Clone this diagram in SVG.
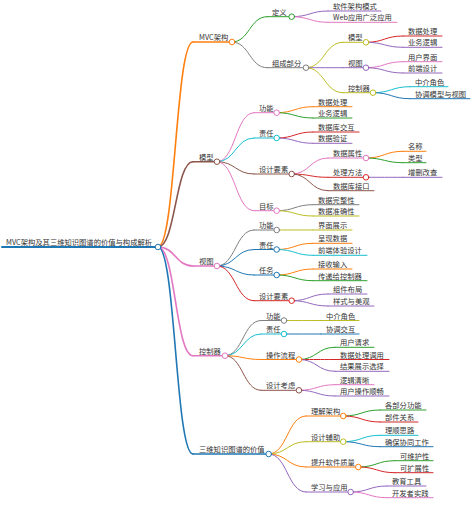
<svg xmlns="http://www.w3.org/2000/svg" width="474" height="513" viewBox="0 0 474 513">
<style>
.t{font-family:"Noto Sans CJK SC","Liberation Sans",sans-serif;font-size:7.3px;fill:#333}
line,path,circle{fill:none;stroke-linecap:round}
circle{fill:#fff;stroke-width:1}
line{stroke-width:1}
#links path{stroke-width:1}
#links .l1{stroke-width:1.6}
.u1{stroke-width:1.5}
.bl{stroke:#1f77b4}.o{stroke:#ff7f0e}.g{stroke:#2ca02c}.r{stroke:#d62728}.p{stroke:#9467bd}
.br{stroke:#8c564b}.pk{stroke:#e377c2}.gy{stroke:#7f7f7f}.y{stroke:#bcbd22}.c{stroke:#17becf}
</style>
<rect width="474" height="513" fill="#fff"/>
<g id="links">
<path class="l1 o" d="M158,247 C175.5,247 175.5,42 193,42"/>
<path class="l1 br" d="M158,247 C175.5,247 175.5,161.7 193,161.7"/>
<path class="l1 pk" d="M158,247 C175.5,247 175.5,266 193,266"/>
<path class="l1 pk" d="M158,247 C175.5,247 175.5,355.7 193,355.7"/>
<path class="l1 bl" d="M158,247 C175.5,247 175.5,454 193,454"/>
<path class="g" d="M232,42 C249.5,42 249.5,16.7 267,16.7"/>
<path class="gy" d="M232,42 C249.5,42 249.5,67.7 267,67.7"/>
<path class="p" d="M291.7,16.7 C309.9,16.7 309.9,11 328,11"/>
<path class="pk" d="M291.7,16.7 C309.9,16.7 309.9,22.3 328,22.3"/>
<path class="y" d="M306,67.7 C324.5,67.7 324.5,42.3 343,42.3"/>
<path class="p" d="M306,67.7 C324.5,67.7 324.5,67.7 343,67.7"/>
<path class="y" d="M306,67.7 C324.5,67.7 324.5,92.7 343,92.7"/>
<path class="r" d="M366,42.3 C384.5,42.3 384.5,36 403,36"/>
<path class="p" d="M366,42.3 C384.5,42.3 384.5,47.3 403,47.3"/>
<path class="pk" d="M366,67.7 C384.5,67.7 384.5,61.7 403,61.7"/>
<path class="p" d="M366,67.7 C384.5,67.7 384.5,73 403,73"/>
<path class="c" d="M373,92.7 C391.5,92.7 391.5,86.7 410,86.7"/>
<path class="bl" d="M373,92.7 C391.5,92.7 391.5,98.7 410,98.7"/>
<path class="pk" d="M217,161.7 C235.5,161.7 235.5,112.7 254,112.7"/>
<path class="c" d="M217,161.7 C235.5,161.7 235.5,138 254,138"/>
<path class="br" d="M217,161.7 C235.5,161.7 235.5,174 254,174"/>
<path class="pk" d="M217,161.7 C235.5,161.7 235.5,210.7 254,210.7"/>
<path class="o" d="M276.7,112.7 C294.9,112.7 294.9,106.7 313,106.7"/>
<path class="g" d="M276.7,112.7 C294.9,112.7 294.9,118 313,118"/>
<path class="r" d="M276.7,138 C294.9,138 294.9,132 313,132"/>
<path class="p" d="M276.7,138 C294.9,138 294.9,143.3 313,143.3"/>
<path class="pk" d="M291.7,174 C309.9,174 309.9,158 328,158"/>
<path class="r" d="M291.7,174 C309.9,174 309.9,177.3 328,177.3"/>
<path class="br" d="M291.7,174 C309.9,174 309.9,190.7 328,190.7"/>
<path class="o" d="M366,158 C384.5,158 384.5,151.3 403,151.3"/>
<path class="g" d="M366,158 C384.5,158 384.5,162.7 403,162.7"/>
<path class="p" d="M366,177.3 C384.5,177.3 384.5,177.3 403,177.3"/>
<path class="gy" d="M276.7,210.7 C294.9,210.7 294.9,204.7 313,204.7"/>
<path class="y" d="M276.7,210.7 C294.9,210.7 294.9,216 313,216"/>
<path class="gy" d="M217,266 C235.5,266 235.5,230 254,230"/>
<path class="bl" d="M217,266 C235.5,266 235.5,249.5 254,249.5"/>
<path class="bl" d="M217,266 C235.5,266 235.5,275 254,275"/>
<path class="r" d="M217,266 C235.5,266 235.5,300.7 254,300.7"/>
<path class="y" d="M276.7,230 C294.9,230 294.9,230 313,230"/>
<path class="o" d="M276.7,249.5 C294.9,249.5 294.9,243.3 313,243.3"/>
<path class="c" d="M276.7,249.5 C294.9,249.5 294.9,255.3 313,255.3"/>
<path class="o" d="M276.7,275 C294.9,275 294.9,269 313,269"/>
<path class="g" d="M276.7,275 C294.9,275 294.9,280.7 313,280.7"/>
<path class="p" d="M291.7,300.7 C309.9,300.7 309.9,294 328,294"/>
<path class="p" d="M291.7,300.7 C309.9,300.7 309.9,306 328,306"/>
<path class="gy" d="M225,355.7 C243,355.7 243,320.5 261,320.5"/>
<path class="c" d="M225,355.7 C243,355.7 243,334 261,334"/>
<path class="o" d="M225,355.7 C243,355.7 243,359.5 261,359.5"/>
<path class="br" d="M225,355.7 C243,355.7 243,390.3 261,390.3"/>
<path class="y" d="M284,320.5 C302.5,320.5 302.5,320.5 321,320.5"/>
<path class="bl" d="M284,334 C302.5,334 302.5,334 321,334"/>
<path class="g" d="M299,359.5 C317,359.5 317,347.3 335,347.3"/>
<path class="r" d="M299,359.5 C317,359.5 317,359.5 335,359.5"/>
<path class="p" d="M299,359.5 C317,359.5 317,371.3 335,371.3"/>
<path class="pk" d="M299,390.3 C317,390.3 317,384.7 335,384.7"/>
<path class="p" d="M299,390.3 C317,390.3 317,396 335,396"/>
<path class="o" d="M268.7,454 C287.4,454 287.4,416 306,416"/>
<path class="y" d="M268.7,454 C287.4,454 287.4,441.7 306,441.7"/>
<path class="o" d="M268.7,454 C287.4,454 287.4,467 306,467"/>
<path class="p" d="M268.7,454 C287.4,454 287.4,492 306,492"/>
<path class="g" d="M343.3,416 C361.7,416 361.7,410 380,410"/>
<path class="r" d="M343.3,416 C361.7,416 361.7,422 380,422"/>
<path class="c" d="M343.3,441.7 C361.7,441.7 361.7,435.3 380,435.3"/>
<path class="bl" d="M343.3,441.7 C361.7,441.7 361.7,446.7 380,446.7"/>
<path class="g" d="M358.3,467 C376.7,467 376.7,460.7 395,460.7"/>
<path class="r" d="M358.3,467 C376.7,467 376.7,472.7 395,472.7"/>
<path class="p" d="M350.7,492 C368.9,492 368.9,486 387,486"/>
<path class="pk" d="M350.7,492 C368.9,492 368.9,497.7 387,497.7"/>
</g>

<g id="n0"><line class="bl" style="stroke-width:2" x1="2" y1="247" x2="158" y2="247"/><text class="t" x="6" y="245">MVC架构及其三维知识图谱的价值与构成解析</text><circle class="bl" cx="158" cy="247" r="2.8"/></g>

<g id="n1"><line class="o u1" x1="193" y1="42" x2="232" y2="42"/><text class="t" x="199" y="40">MVC架构</text><circle class="o" cx="232" cy="42" r="2.8"/></g>
<g id="n1a"><line class="g" x1="267" y1="16.7" x2="291.7" y2="16.7"/><text class="t" x="272" y="14.7">定义</text><circle class="g" cx="291.7" cy="16.7" r="2.8"/></g>
<g id="n1a1"><line class="p" x1="328" y1="11" x2="381" y2="11"/><text class="t" x="333" y="9">软件架构模式</text></g>
<g id="n1a2"><line class="pk" x1="328" y1="22.3" x2="397" y2="22.3"/><text class="t" x="333" y="20.3">Web应用广泛应用</text></g>
<g id="n1b"><line class="gy" x1="267" y1="67.7" x2="306" y2="67.7"/><text class="t" x="272" y="65.7">组成部分</text><circle class="gy" cx="306" cy="67.7" r="2.8"/></g>
<g id="n1b1"><line class="y" x1="343" y1="42.3" x2="366" y2="42.3"/><text class="t" x="348" y="40.3">模型</text><circle class="y" cx="366" cy="42.3" r="2.8"/></g>
<g id="n1b1a"><line class="r" x1="403" y1="36" x2="442" y2="36"/><text class="t" x="408" y="34">数据处理</text></g>
<g id="n1b1b"><line class="p" x1="403" y1="47.3" x2="442" y2="47.3"/><text class="t" x="408" y="45.3">业务逻辑</text></g>
<g id="n1b2"><line class="p" x1="343" y1="67.7" x2="366" y2="67.7"/><text class="t" x="348" y="65.7">视图</text><circle class="p" cx="366" cy="67.7" r="2.8"/></g>
<g id="n1b2a"><line class="pk" x1="403" y1="61.7" x2="442" y2="61.7"/><text class="t" x="408" y="59.7">用户界面</text></g>
<g id="n1b2b"><line class="p" x1="403" y1="73" x2="442" y2="73"/><text class="t" x="408" y="71">前端设计</text></g>
<g id="n1b3"><line class="y" x1="343" y1="92.7" x2="373" y2="92.7"/><text class="t" x="348" y="90.7">控制器</text><circle class="y" cx="373" cy="92.7" r="2.8"/></g>
<g id="n1b3a"><line class="c" x1="410" y1="86.7" x2="448" y2="86.7"/><text class="t" x="415" y="84.7">中介角色</text></g>
<g id="n1b3b"><line class="bl" x1="410" y1="98.7" x2="470" y2="98.7"/><text class="t" x="415" y="96.7">协调模型与视图</text></g>

<g id="n2"><line class="br u1" x1="193" y1="161.7" x2="217" y2="161.7"/><text class="t" x="199" y="159.7">模型</text><circle class="br" cx="217" cy="161.7" r="2.8"/></g>
<g id="n2a"><line class="pk" x1="254" y1="112.7" x2="276.7" y2="112.7"/><text class="t" x="259" y="110.7">功能</text><circle class="pk" cx="276.7" cy="112.7" r="2.8"/></g>
<g id="n2a1"><line class="o" x1="313" y1="106.7" x2="352" y2="106.7"/><text class="t" x="318" y="104.7">数据处理</text></g>
<g id="n2a2"><line class="g" x1="313" y1="118" x2="352" y2="118"/><text class="t" x="318" y="116">业务逻辑</text></g>
<g id="n2b"><line class="c" x1="254" y1="138" x2="276.7" y2="138"/><text class="t" x="259" y="136">责任</text><circle class="c" cx="276.7" cy="138" r="2.8"/></g>
<g id="n2b1"><line class="r" x1="313" y1="132" x2="359" y2="132"/><text class="t" x="318" y="130">数据库交互</text></g>
<g id="n2b2"><line class="p" x1="313" y1="143.3" x2="352" y2="143.3"/><text class="t" x="318" y="141.3">数据验证</text></g>
<g id="n2c"><line class="br" x1="254" y1="174" x2="291.7" y2="174"/><text class="t" x="259" y="172">设计要素</text><circle class="br" cx="291.7" cy="174" r="2.8"/></g>
<g id="n2c1"><line class="pk" x1="328" y1="158" x2="366" y2="158"/><text class="t" x="333" y="156">数据属性</text><circle class="pk" cx="366" cy="158" r="2.8"/></g>
<g id="n2c1a"><line class="o" x1="403" y1="151.3" x2="426" y2="151.3"/><text class="t" x="408" y="149.3">名称</text></g>
<g id="n2c1b"><line class="g" x1="403" y1="162.7" x2="426" y2="162.7"/><text class="t" x="408" y="160.7">类型</text></g>
<g id="n2c2"><line class="r" x1="328" y1="177.3" x2="366" y2="177.3"/><text class="t" x="333" y="175.3">处理方法</text><circle class="r" cx="366" cy="177.3" r="2.8"/></g>
<g id="n2c2a"><line class="p" x1="403" y1="177.3" x2="442" y2="177.3"/><text class="t" x="408" y="175.3">增删改查</text></g>
<g id="n2c3"><line class="br" x1="328" y1="190.7" x2="374" y2="190.7"/><text class="t" x="333" y="188.7">数据库接口</text></g>
<g id="n2d"><line class="pk" x1="254" y1="210.7" x2="276.7" y2="210.7"/><text class="t" x="259" y="208.7">目标</text><circle class="pk" cx="276.7" cy="210.7" r="2.8"/></g>
<g id="n2d1"><line class="gy" x1="313" y1="204.7" x2="359" y2="204.7"/><text class="t" x="318" y="202.7">数据完整性</text></g>
<g id="n2d2"><line class="y" x1="313" y1="216" x2="359" y2="216"/><text class="t" x="318" y="214">数据准确性</text></g>

<g id="n3"><line class="pk u1" x1="193" y1="266" x2="217" y2="266"/><text class="t" x="199" y="264">视图</text><circle class="pk" cx="217" cy="266" r="2.8"/></g>
<g id="n3a"><line class="gy" x1="254" y1="230" x2="276.7" y2="230"/><text class="t" x="259" y="228">功能</text><circle class="gy" cx="276.7" cy="230" r="2.8"/></g>
<g id="n3a1"><line class="y" x1="313" y1="230" x2="352" y2="230"/><text class="t" x="318" y="228">界面展示</text></g>
<g id="n3b"><line class="bl" x1="254" y1="249.5" x2="276.7" y2="249.5"/><text class="t" x="259" y="247.5">责任</text><circle class="bl" cx="276.7" cy="249.5" r="2.8"/></g>
<g id="n3b1"><line class="o" x1="313" y1="243.3" x2="352" y2="243.3"/><text class="t" x="318" y="241.3">呈现数据</text></g>
<g id="n3b2"><line class="c" x1="313" y1="255.3" x2="367" y2="255.3"/><text class="t" x="318" y="253.3">前端体验设计</text></g>
<g id="n3c"><line class="bl" x1="254" y1="275" x2="276.7" y2="275"/><text class="t" x="259" y="273">任务</text><circle class="bl" cx="276.7" cy="275" r="2.8"/></g>
<g id="n3c1"><line class="o" x1="313" y1="269" x2="352" y2="269"/><text class="t" x="318" y="267">接收输入</text></g>
<g id="n3c2"><line class="g" x1="313" y1="280.7" x2="367" y2="280.7"/><text class="t" x="318" y="278.7">传递给控制器</text></g>
<g id="n3d"><line class="r" x1="254" y1="300.7" x2="291.7" y2="300.7"/><text class="t" x="259" y="298.7">设计要素</text><circle class="r" cx="291.7" cy="300.7" r="2.8"/></g>
<g id="n3d1"><line class="p" x1="328" y1="294" x2="367" y2="294"/><text class="t" x="333" y="292">组件布局</text></g>
<g id="n3d2"><line class="p" x1="328" y1="306" x2="374" y2="306"/><text class="t" x="333" y="304">样式与美观</text></g>

<g id="n4"><line class="pk u1" x1="193" y1="355.7" x2="225" y2="355.7"/><text class="t" x="199" y="353.7">控制器</text><circle class="pk" cx="225" cy="355.7" r="2.8"/></g>
<g id="n4a"><line class="gy" x1="261" y1="320.5" x2="284" y2="320.5"/><text class="t" x="266" y="318.5">功能</text><circle class="gy" cx="284" cy="320.5" r="2.8"/></g>
<g id="n4a1"><line class="y" x1="321" y1="320.5" x2="359" y2="320.5"/><text class="t" x="326" y="318.5">中介角色</text></g>
<g id="n4b"><line class="c" x1="261" y1="334" x2="284" y2="334"/><text class="t" x="266" y="332">责任</text><circle class="c" cx="284" cy="334" r="2.8"/></g>
<g id="n4b1"><line class="bl" x1="321" y1="334" x2="359" y2="334"/><text class="t" x="326" y="332">协调交互</text></g>
<g id="n4c"><line class="o" x1="261" y1="359.5" x2="299" y2="359.5"/><text class="t" x="266" y="357.5">操作流程</text><circle class="o" cx="299" cy="359.5" r="2.8"/></g>
<g id="n4c1"><line class="g" x1="335" y1="347.3" x2="374" y2="347.3"/><text class="t" x="340" y="345.3">用户请求</text></g>
<g id="n4c2"><line class="r" x1="335" y1="359.5" x2="389" y2="359.5"/><text class="t" x="340" y="357.5">数据处理调用</text></g>
<g id="n4c3"><line class="p" x1="335" y1="371.3" x2="389" y2="371.3"/><text class="t" x="340" y="369.3">结果展示选择</text></g>
<g id="n4d"><line class="br" x1="261" y1="390.3" x2="299" y2="390.3"/><text class="t" x="266" y="388.3">设计考虑</text><circle class="br" cx="299" cy="390.3" r="2.8"/></g>
<g id="n4d1"><line class="pk" x1="335" y1="384.7" x2="374" y2="384.7"/><text class="t" x="340" y="382.7">逻辑清晰</text></g>
<g id="n4d2"><line class="p" x1="335" y1="396" x2="389" y2="396"/><text class="t" x="340" y="394">用户操作顺畅</text></g>

<g id="n5"><line class="bl u1" x1="193" y1="454" x2="268.7" y2="454"/><text class="t" x="199" y="452">三维知识图谱的价值</text><circle class="bl" cx="268.7" cy="454" r="2.8"/></g>
<g id="n5a"><line class="o" x1="306" y1="416" x2="343.3" y2="416"/><text class="t" x="311" y="414">理解架构</text><circle class="o" cx="343.3" cy="416" r="2.8"/></g>
<g id="n5a1"><line class="g" x1="380" y1="410" x2="426" y2="410"/><text class="t" x="385" y="408">各部分功能</text></g>
<g id="n5a2"><line class="r" x1="380" y1="422" x2="418" y2="422"/><text class="t" x="385" y="420">部件关系</text></g>
<g id="n5b"><line class="y" x1="306" y1="441.7" x2="343.3" y2="441.7"/><text class="t" x="311" y="439.7">设计辅助</text><circle class="y" cx="343.3" cy="441.7" r="2.8"/></g>
<g id="n5b1"><line class="c" x1="380" y1="435.3" x2="418" y2="435.3"/><text class="t" x="385" y="433.3">理顺思路</text></g>
<g id="n5b2"><line class="bl" x1="380" y1="446.7" x2="433" y2="446.7"/><text class="t" x="385" y="444.7">确保协同工作</text></g>
<g id="n5c"><line class="o" x1="306" y1="467" x2="358.3" y2="467"/><text class="t" x="311" y="465">提升软件质量</text><circle class="o" cx="358.3" cy="467" r="2.8"/></g>
<g id="n5c1"><line class="g" x1="395" y1="460.7" x2="433" y2="460.7"/><text class="t" x="400" y="458.7">可维护性</text></g>
<g id="n5c2"><line class="r" x1="395" y1="472.7" x2="433" y2="472.7"/><text class="t" x="400" y="470.7">可扩展性</text></g>
<g id="n5d"><line class="p" x1="306" y1="492" x2="350.7" y2="492"/><text class="t" x="311" y="490">学习与应用</text><circle class="p" cx="350.7" cy="492" r="2.8"/></g>
<g id="n5d1"><line class="p" x1="387" y1="486" x2="426" y2="486"/><text class="t" x="392" y="484">教育工具</text></g>
<g id="n5d2"><line class="pk" x1="387" y1="497.7" x2="433" y2="497.7"/><text class="t" x="392" y="495.7">开发者实践</text></g>
</svg>
